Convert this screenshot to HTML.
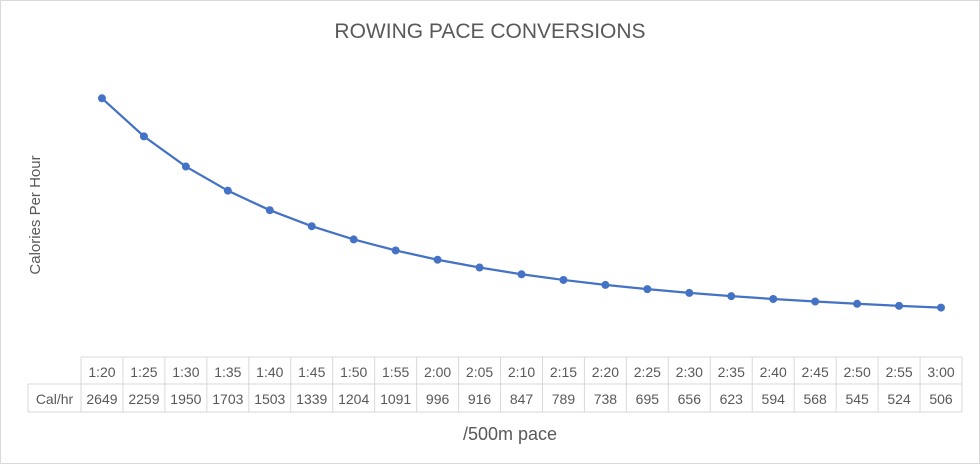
<!DOCTYPE html>
<html><head><meta charset="utf-8"><style>
body{margin:0;background:#fff}
svg{display:block;font-family:"Liberation Sans",sans-serif}
</style></head><body>
<svg id="c" width="980" height="464">
<rect x="0.5" y="0.5" width="979" height="463" fill="#fff" stroke="#d9d9d9"/>
<text x="490" y="38" text-anchor="middle" font-size="21" fill="#595959">ROWING PACE CONVERSIONS</text>
<text transform="translate(40,215) rotate(-90)" text-anchor="middle" font-size="15" fill="#595959">Calories Per Hour</text>
<text x="510" y="440" text-anchor="middle" font-size="18" fill="#595959">/500m pace</text>
<g id="table"></g>
<g id="series"></g>
</svg>
<script>
const categories=["1:20","1:25","1:30","1:35","1:40","1:45","1:50","1:55","2:00","2:05","2:10","2:15","2:20","2:25","2:30","2:35","2:40","2:45","2:50","2:55","3:00"];
const calories=[2649,2259,1950,1703,1503,1339,1204,1091,996,916,847,789,738,695,656,623,594,568,545,524,506];
const yMax=3000;
const NS="http://www.w3.org/2000/svg";
const plotL=81,plotR=962,plotT=64,plotB=357;
const cw=(plotR-plotL)/categories.length;
const xs=i=>plotL+cw*(i+0.5);
const ys=v=>plotB-(v/yMax)*(plotB-plotT);
function mk(tag,attrs,parent){const e=document.createElementNS(NS,tag);for(const k in attrs)e.setAttribute(k,attrs[k]);parent.appendChild(e);return e;}
const tb=document.getElementById('table'),sg=document.getElementById('series');
const r1=357,r2=384,r3=412,lab=28;
mk('line',{x1:plotL,y1:r1,x2:plotR,y2:r1,stroke:'#d9d9d9'},tb);
mk('line',{x1:lab,y1:r2,x2:plotR,y2:r2,stroke:'#d9d9d9'},tb);
mk('line',{x1:lab,y1:r3,x2:plotR,y2:r3,stroke:'#d9d9d9'},tb);
mk('line',{x1:lab,y1:r2,x2:lab,y2:r3,stroke:'#d9d9d9'},tb);
for(let i=0;i<=categories.length;i++){mk('line',{x1:plotL+cw*i,y1:r1,x2:plotL+cw*i,y2:r3,stroke:'#d9d9d9'},tb);}
const cl=mk('text',{x:(lab+plotL)/2,y:404,'text-anchor':'middle','font-size':14,fill:'#595959'},tb);
cl.textContent='Cal/hr';


categories.forEach((c,i)=>{
 const t=mk('text',{x:xs(i),y:377,'text-anchor':'middle','font-size':14,fill:'#595959'},tb);t.textContent=c;
 
 
 const v=mk('text',{x:xs(i),y:404,'text-anchor':'middle','font-size':14,fill:'#595959'},tb);v.textContent=calories[i];
 
 
});
const pl=mk('polyline',{points:calories.map((v,i)=>xs(i)+','+ys(v)).join(' '),fill:'none',stroke:'#4472c4','stroke-width':2.25},sg);


calories.forEach((v,i)=>{
 const c=mk('circle',{cx:xs(i),cy:ys(v),r:4,fill:'#4472c4'},sg);
 
 
});
</script>
</body></html>
